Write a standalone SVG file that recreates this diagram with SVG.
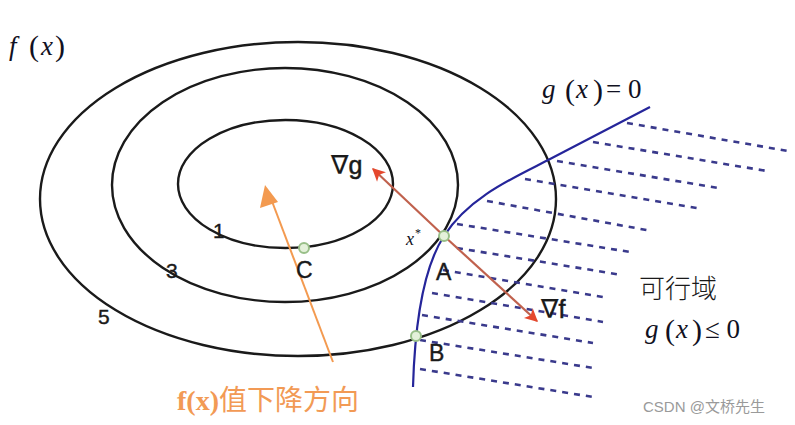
<svg xmlns="http://www.w3.org/2000/svg" width="795" height="425" viewBox="0 0 795 425">
<style>
.ell{fill:none;stroke:#1a1a1a;stroke-width:2.4}
.dash{stroke:#3a3a8c;stroke-width:2.6;stroke-dasharray:6 6;fill:none}
.lbl{font-family:"Liberation Sans",Arial,sans-serif;font-size:23px;fill:#1a1a1a;stroke:#1a1a1a;stroke-width:0.4}
.num{font-family:"Liberation Sans",Arial,sans-serif;font-size:21px;fill:#1a1a1a;stroke:#1a1a1a;stroke-width:0.4}
.nab{font-family:"Liberation Sans",Arial,sans-serif;font-size:25px;fill:#1a1a1a;stroke:#1a1a1a;stroke-width:0.5}
.tri{font-family:"DejaVu Sans",sans-serif;font-size:26px;stroke-width:0.15}
.math{font-family:"Liberation Serif","Times New Roman",serif;fill:#111122}
.it{font-style:italic}
.pt{fill:#e4f1da;stroke:#98bf88;stroke-width:2}
.grad{stroke:#c0614d;stroke-width:2.2;fill:none}
</style>
<defs>
<marker id="redHead" viewBox="0 0 10 10" refX="9" refY="5" markerWidth="17" markerHeight="13" markerUnits="userSpaceOnUse" orient="auto" overflow="visible">
<path d="M0,0 L10,5 L0,10 L2.5,5 z" fill="#e5482e"/>
</marker>
</defs>
<rect width="795" height="425" fill="#ffffff"/>
<g id="contours">
<ellipse id="contour5" class="ell" cx="298" cy="199" rx="258" ry="157"/>
<ellipse id="contour3" class="ell" cx="285" cy="185" rx="173" ry="117"/>
<ellipse id="contour1" class="ell" cx="285.5" cy="184" rx="107.5" ry="64"/>
</g>
<g id="feasible-region">
<line class="dash" x1="627" y1="123" x2="788" y2="151"/>
<line class="dash" x1="593" y1="142" x2="767" y2="171"/>
<line class="dash" x1="557" y1="161" x2="718" y2="188"/>
<line class="dash" x1="525" y1="179" x2="697" y2="208"/>
<line class="dash" x1="487" y1="201" x2="652" y2="231"/>
<line class="dash" x1="457" y1="224" x2="630" y2="252"/>
<line class="dash" x1="457" y1="248" x2="622" y2="275"/>
<line class="dash" x1="443" y1="270" x2="603" y2="297"/>
<line class="dash" x1="432" y1="293" x2="603" y2="322"/>
<line class="dash" x1="422" y1="315" x2="593" y2="343"/>
<line class="dash" x1="420" y1="340" x2="593" y2="368"/>
<line class="dash" x1="420" y1="369" x2="593" y2="397"/>
</g>
<g id="connectors">
<path id="constraint-curve" d="M413,387 C415,320 425,265 444,236 C470,195 520,175 552,158 L650,107" fill="none" stroke="#25259a" stroke-width="2.2"/>
<path id="grad-g" class="grad" d="M444,236 L373,169" marker-end="url(#redHead)"/>
<path id="grad-f" class="grad" d="M444,236 L537,321" marker-end="url(#redHead)"/>
<line x1="333" y1="362" x2="270" y2="196" stroke="#f39a50" stroke-width="2"/>
<polygon points="265,185 278,202 260,208" fill="#f39a50"/>
</g>
<g id="point-A"><circle class="pt" cx="444" cy="236" r="5"/><text class="lbl" x="436" y="280">A</text></g>
<g id="point-B"><circle class="pt" cx="416" cy="336" r="5"/><text class="lbl" x="429" y="361">B</text></g>
<g id="point-C"><circle class="pt" cx="304" cy="248" r="5"/><text class="lbl" x="296" y="278">C</text></g>
<g id="labels">
<text class="num" x="213" y="238">1</text>
<text class="num" x="166" y="278">3</text>
<text class="num" x="98" y="324">5</text>
<text class="nab" x="331" y="174"><tspan class="tri">∇</tspan>g</text>
<text class="nab" x="541" y="318"><tspan class="tri">∇</tspan>f</text>
<text class="math it" x="406" y="245" font-size="18">x</text>
<text class="math" x="415" y="237" font-size="12">*</text>
<g id="label-fx" class="math" font-size="27">
<text class="it" x="9" y="55">f</text>
<text x="29" y="56" font-size="30">(</text>
<text class="it" x="41" y="55">x</text>
<text x="55" y="56" font-size="30">)</text>
</g>
<g id="label-g0" class="math" font-size="27">
<text class="it" x="542" y="98">g</text>
<text x="565" y="100" font-size="30">(</text>
<text class="it" x="576" y="98">x</text>
<text x="593" y="100" font-size="30">)</text>
<text x="606" y="98">= 0</text>
</g>
<text x="639" y="298" font-family="'Noto Sans CJK SC',sans-serif" font-size="26" font-weight="300" fill="#1a1a1a">可行域</text>
<g id="label-gle0" class="math" font-size="27">
<text class="it" x="645" y="338">g</text>
<text x="665" y="340" font-size="30">(</text>
<text class="it" x="676" y="338">x</text>
<text x="692" y="340" font-size="30">)</text>
<text x="705" y="338">≤ 0</text>
</g>
<text x="177" y="410" font-size="28" fill="#f29a55"><tspan font-family="'Liberation Serif',serif" font-weight="bold">f(x)</tspan><tspan font-family="'Noto Sans CJK SC',sans-serif">值下降方向</tspan></text>
<text x="643" y="412" font-family="'Liberation Sans','Noto Sans CJK SC',sans-serif" font-size="15" fill="#9a9a9a">CSDN @文桥先生</text>
</g>
</svg>
